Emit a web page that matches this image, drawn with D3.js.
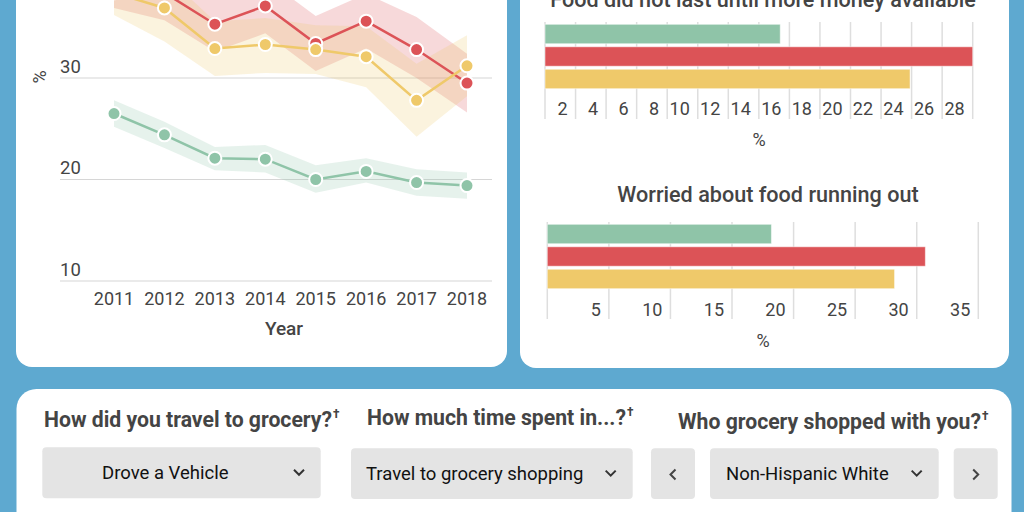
<!DOCTYPE html>
<html>
<head>
<meta charset="utf-8">
<script src="https://cdn.jsdelivr.net/npm/d3@7"></script>
<style>
  html, body { margin: 0; padding: 0; background: #5ea9d0; }
  svg { display: block; font-family: Roboto, "Noto Sans", sans-serif; }
</style>
</head>
<body>
<svg id="chart" width="1024" height="512"></svg>
<script>
// ---------- DATA ----------
const years = [2011, 2012, 2013, 2014, 2015, 2016, 2017, 2018];
const seriesKeys = ["green", "red", "yellow"];
const seriesColors = ["#8fc4a8", "#dc5357", "#efc96a"];

const greenVals = [26.5, 24.4, 22.1, 22.0, 20.0, 20.8, 19.7, 19.4];
const greenLo   = [25.2, 23.1, 20.9, 20.7, 18.7, 19.7, 18.4, 18.1];
const greenHi   = [27.8, 25.7, 23.2, 23.4, 21.4, 22.1, 21.0, 20.7];

const redVals   = [39.6, 38.4, 35.3, 37.1, 33.4, 35.6, 32.8, 29.5];
const redLo     = [36.9, 35.7, 32.6, 34.4, 30.7, 32.9, 30.0, 26.6];
const redHi     = [42.3, 41.1, 38.0, 39.8, 36.1, 38.3, 36.0, 32.4];

const yellowVals = [38.4, 36.9, 32.9, 33.3, 32.8, 32.1, 27.8, 31.2];
const yellowLo   = [36.2, 33.6, 30.2, 30.5, 30.4, 29.1, 24.2, 28.2];
const yellowHi   = [40.4, 40.2, 35.6, 35.9, 35.2, 35.1, 31.4, 34.2];

const yTicks = [10, 20, 30];

const barTitles = ["Food did not last until more money available", "Worried about food running out"];
const foodLastVals = [15.4, 28.0, 23.9];
const worriedVals  = [18.2, 30.7, 28.2];
const foodLastTicks = [2, 4, 6, 8, 10, 12, 14, 16, 18, 20, 22, 24, 26, 28];
const worriedTicks  = [5, 10, 15, 20, 25, 30, 35];

const controlLabels = ["How did you travel to grocery?", "How much time spent in...?", "Who grocery shopped with you?"];
const controlValues = ["Drove a Vehicle", "Travel to grocery shopping", "Non-Hispanic White"];

// ---------- SETUP ----------
const svg = d3.select("#chart");
const textColor = "#444";

// cards
svg.append("rect").attr("x", 16).attr("y", -30).attr("width", 491).attr("height", 397)
  .attr("rx", 16).attr("fill", "#fff");
svg.append("rect").attr("x", 520).attr("y", -30).attr("width", 489).attr("height", 398)
  .attr("rx", 16).attr("fill", "#fff");
svg.append("rect").attr("x", 16.5).attr("y", 389).attr("width", 995).attr("height", 200)
  .attr("rx", 20).attr("fill", "#fff");

// ---------- LINE CHART ----------
const x = d3.scalePoint().domain(years).range([114, 467]);
const y = d3.scaleLinear().domain([10, 40]).range([281, 281 - 30 * 10.15]);

const lc = svg.append("g");
lc.selectAll("line.grid").data(yTicks).join("line")
  .attr("x1", 60).attr("x2", 492)
  .attr("y1", d => y(d)).attr("y2", d => y(d))
  .attr("stroke", "#d6d6d6").attr("stroke-width", 1.2);
lc.selectAll("text.ytick").data(yTicks).join("text")
  .attr("x", 60).attr("y", d => y(d) - 5.5)
  .attr("font-size", 18.5).attr("fill", textColor)
  .text(d => d);

lc.selectAll("text.xtick").data(years).join("text")
  .attr("x", d => x(d)).attr("y", 305)
  .attr("text-anchor", "middle").attr("font-size", 18).attr("fill", textColor)
  .text(d => d);
lc.append("text").attr("x", 284).attr("y", 335).attr("text-anchor", "middle")
  .attr("font-size", 19).attr("font-weight", 500).attr("fill", textColor).text("Year");
lc.append("text").attr("transform", "translate(46,77) rotate(-90)")
  .attr("text-anchor", "middle").attr("font-size", 18).attr("fill", textColor).text("%");

const lineSeries = [
  { vals: greenVals, lo: greenLo, hi: greenHi, color: seriesColors[0] },
  { vals: redVals, lo: redLo, hi: redHi, color: seriesColors[1] },
  { vals: yellowVals, lo: yellowLo, hi: yellowHi, color: seriesColors[2] }
];

const area = d3.area()
  .x((d, i) => x(years[i]))
  .y0(d => y(d[0])).y1(d => y(d[1]));
const line = d3.line().x((d, i) => x(years[i])).y(d => y(d));

lineSeries.forEach(s => {
  const bandData = s.lo.map((v, i) => [v, s.hi[i]]);
  lc.append("path").datum(bandData).attr("d", area)
    .attr("fill", s.color).attr("fill-opacity", 0.22);
});
lineSeries.forEach(s => {
  lc.append("path").datum(s.vals).attr("d", line)
    .attr("fill", "none").attr("stroke", s.color).attr("stroke-width", 2.5);
  lc.selectAll(null).data(s.vals).join("circle")
    .attr("cx", (d, i) => x(years[i])).attr("cy", d => y(d))
    .attr("r", 6.5).attr("fill", s.color)
    .attr("stroke", "#fff").attr("stroke-width", 2);
});

// ---------- BAR CHARTS ----------
function barChart(cfg) {
  const g = svg.append("g");
  const xs = d3.scaleLinear().domain([0, cfg.max]).range([cfg.x0, cfg.x1]);
  const ys = d3.scaleBand().domain(seriesKeys).range([cfg.barTop, cfg.barBottom])
    .paddingInner(0.135).paddingOuter(0);
  g.append("text").attr("x", cfg.titleX).attr("y", cfg.titleY)
    .attr("text-anchor", "middle").attr("font-size", 21.6).attr("font-weight", 500)
    .attr("fill", textColor).text(cfg.title);
  const gridVals = [0].concat(cfg.ticks);
  g.selectAll("line").data(gridVals).join("line")
    .attr("x1", d => xs(d)).attr("x2", d => xs(d))
    .attr("y1", cfg.gridTop).attr("y2", cfg.gridBottom)
    .attr("stroke", "#dedede").attr("stroke-width", 1.5);
  g.selectAll("rect").data(cfg.vals).join("rect")
    .attr("x", xs(0)).attr("y", (d, i) => ys(seriesKeys[i]))
    .attr("width", d => xs(d) - xs(0)).attr("height", ys.bandwidth())
    .attr("fill", (d, i) => seriesColors[i])
    .attr("stroke", "rgba(255,255,255,0.5)").attr("stroke-width", 1);
  g.selectAll("text.tick").data(cfg.ticks).join("text")
    .attr("x", d => xs(d) - 8).attr("y", cfg.labelY)
    .attr("text-anchor", "end").attr("font-size", 18).attr("fill", textColor)
    .text(d => d);
  g.append("text").attr("x", cfg.pctX).attr("y", cfg.pctY)
    .attr("text-anchor", "middle").attr("font-size", 18).attr("fill", textColor).text("%");
}

barChart({
  title: barTitles[0], titleX: 763, titleY: 6.5,
  vals: foodLastVals, ticks: foodLastTicks, max: 28,
  x0: 545, x1: 972.7, gridTop: 22, gridBottom: 119,
  barTop: 24.3, barBottom: 88.7, labelY: 115.2, pctX: 759, pctY: 146
});
barChart({
  title: barTitles[1], titleX: 768, titleY: 201.7,
  vals: worriedVals, ticks: worriedTicks, max: 35,
  x0: 547.3, x1: 978.3, gridTop: 222, gridBottom: 319,
  barTop: 224.3, barBottom: 288.7, labelY: 315.8, pctX: 763, pctY: 347
});

// ---------- CONTROLS ----------
const ctl = svg.append("g");
const labelPos = [[44, 426.5], [367, 425], [678, 429]];
controlLabels.forEach((t, i) => {
  const tx = ctl.append("text").attr("x", labelPos[i][0]).attr("y", labelPos[i][1])
    .attr("font-size", 21.2).attr("font-weight", 700).attr("fill", textColor);
  tx.append("tspan").text(t);
  tx.append("tspan").attr("font-size", 12).attr("dy", -9).attr("dx", 1).text("\u2020");
});

const boxes = [
  { x: 42.3, y: 447.3, w: 278.4, h: 51, text: controlValues[0], tx: 165.3, anchor: "middle", chev: 299 },
  { x: 351, y: 448.3, w: 281.7, h: 50.7, text: controlValues[1], tx: 366, anchor: "start", chev: 610.7 },
  { x: 710, y: 448.3, w: 228.7, h: 50.7, text: controlValues[2], tx: 726, anchor: "start", chev: 916.7 }
];
boxes.forEach(b => {
  ctl.append("rect").attr("x", b.x).attr("y", b.y).attr("width", b.w).attr("height", b.h)
    .attr("rx", 4).attr("fill", "#e4e4e4");
  ctl.append("text").attr("x", b.tx).attr("y", b.y + b.h / 2 + 6.5)
    .attr("text-anchor", b.anchor).attr("font-size", 18.5).attr("fill", "#111").text(b.text);
  const cy = b.y + b.h / 2;
  ctl.append("path").attr("d", `M${b.chev - 5},${cy - 3} L${b.chev},${cy + 2} L${b.chev + 5},${cy - 3}`)
    .attr("fill", "none").attr("stroke", "#333").attr("stroke-width", 2);
});
// arrow buttons
[[651, 44, -1], [953.7, 44, 1]].forEach(([bx, bw, dir]) => {
  ctl.append("rect").attr("x", bx).attr("y", 448.3).attr("width", bw).attr("height", 50.7)
    .attr("rx", 4).attr("fill", "#e4e4e4");
  const cx = bx + bw / 2, cy = 474.5;
  ctl.append("path")
    .attr("d", `M${cx - dir * 2.5},${cy - 5} L${cx + dir * 2.5},${cy} L${cx - dir * 2.5},${cy + 5}`)
    .attr("fill", "none").attr("stroke", "#444").attr("stroke-width", 2);
});
</script>
</body>
</html>
